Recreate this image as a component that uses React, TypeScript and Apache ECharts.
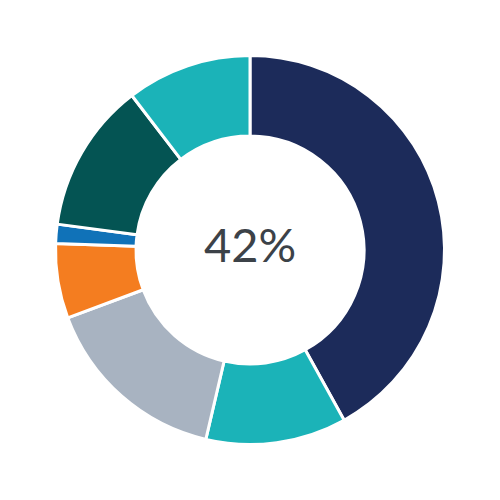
import { useEffect, useRef } from "react";
import * as echarts from "echarts";

const SEGMENTS = ["Segment A", "Segment B", "Segment C", "Segment D", "Segment E", "Segment F", "Segment G"];
const VALUES = [42, 11.7, 15.7, 6.2, 1.6, 12.5, 10.4];
const COLORS = ["#1c2b5a", "#1bb3b8", "#a8b3c1", "#f47d20", "#1072b8", "#045453", "#1bb3b8"];
const CENTER_LABEL = "42%";

export default function App() {
  const chartRef = useRef<HTMLDivElement>(null);

  useEffect(() => {
    document.body.style.margin = "0";
    if (!chartRef.current) return;
    const chart = echarts.init(chartRef.current, undefined, { renderer: "svg" });

    chart.setOption({
      animation: false,
      backgroundColor: "#ffffff",
      title: {
        text: CENTER_LABEL,
        left: "center",
        top: 215,
        textStyle: {
          fontFamily: "Lato",
          fontSize: 47,
          fontWeight: 400,
          color: "#3c4248",
        },
      },
      series: [
        {
          type: "pie",
          center: [250, 250],
          radius: [114, 194.5],
          startAngle: 90,
          clockwise: true,
          label: { show: false },
          labelLine: { show: false },
          emphasis: { disabled: true },
          itemStyle: { borderColor: "#ffffff", borderWidth: 3 },
          data: SEGMENTS.map((name, i) => ({
            name,
            value: VALUES[i],
            itemStyle: { color: COLORS[i] },
          })),
        },
      ],
    });

    return () => chart.dispose();
  }, []);

  return <div ref={chartRef} style={{ width: "500px", height: "500px" }} />;
}
